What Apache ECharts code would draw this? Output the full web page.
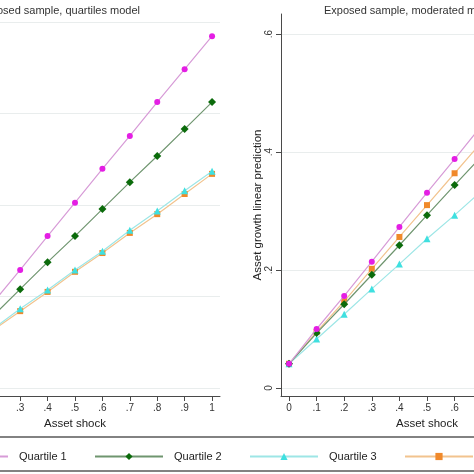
<!DOCTYPE html>
<html>
<head>
<meta charset="utf-8">
<script src="https://cdn.jsdelivr.net/npm/echarts@6/dist/echarts.min.js"></script>
<style>
  html, body { margin: 0; padding: 0; background: #fff; }
  #chart { width: 474px; height: 474px; }
</style>
</head>
<body>
<div id="chart"></div>
<script>
// asset shock values (x)
var shock = [0, 0.1, 0.2, 0.3, 0.4, 0.5, 0.6, 0.7, 0.8, 0.9, 1]
var xTicks = [0, 0.1, 0.2, 0.3, 0.4, 0.5, 0.6, 0.7, 0.8, 0.9, 1]
var yTicksLeft = [0, 0.2, 0.4, 0.6, 0.8]
var yTicksRight = [0, 0.2, 0.4, 0.6]
var names = ['Quartile 1', 'Quartile 2', 'Quartile 3', 'Quartile 4']

// quartiles model (left panel)
var leftQ1 = [0.040, 0.113, 0.186, 0.258, 0.332, 0.405, 0.479, 0.551, 0.625, 0.697, 0.769]
var leftQ2 = [0.040, 0.099, 0.157, 0.216, 0.275, 0.332, 0.391, 0.450, 0.507, 0.566, 0.625]
var leftQ3 = [0.040, 0.085, 0.129, 0.173, 0.214, 0.258, 0.299, 0.345, 0.387, 0.431, 0.474]
var leftQ4 = [0.040, 0.083, 0.126, 0.168, 0.210, 0.254, 0.295, 0.339, 0.380, 0.424, 0.468]

// moderated model (right panel)
var rightQ1 = [0.041, 0.100, 0.156, 0.214, 0.273, 0.331, 0.388, 0.446, 0.504, 0.562, 0.620]
var rightQ2 = [0.041, 0.093, 0.142, 0.192, 0.242, 0.293, 0.344, 0.394, 0.444, 0.494, 0.544]
var rightQ3 = [0.041, 0.083, 0.125, 0.168, 0.210, 0.253, 0.293, 0.335, 0.377, 0.419, 0.461]
var rightQ4 = [0.041, 0.095, 0.147, 0.202, 0.256, 0.310, 0.364, 0.418, 0.472, 0.526, 0.580]

var markerColors = ['#e41ee4', '#0b6b0b', '#3fe0e0', '#f0892a']
var lineColors = ['#d79bd7', '#6f956f', '#9de6e6', '#f2c38e']
var symbols = ['circle', 'diamond', 'triangle', 'rect']
var sizes = [6, 8, 7, 6]

var font = 'Liberation Sans, Arial, sans-serif'
var axisColor = '#4a4a4a'

function pairs(ys) {
  return shock.map(function (x, i) { return [x, ys[i]] })
}

function fmtShock(v) {
  if (v === 0) return '0'
  if (v === 1) return '1'
  return v.toFixed(1).replace(/^0/, '')
}

function fmtY(v) {
  if (v === 0) return '0'
  return v.toFixed(1).replace(/^0/, '')
}

function makeX(gridIndex) {
  return {
    type: 'value',
    gridIndex: gridIndex,
    min: -0.029,
    max: 1.029,
    name: 'Asset shock',
    nameLocation: 'middle',
    nameGap: 18,
    nameTextStyle: { fontFamily: font, fontSize: 11.5, color: '#222' },
    axisLine: { show: true, onZero: false, lineStyle: { color: axisColor, width: 1 } },
    axisTick: { show: true, length: 5, customValues: xTicks, lineStyle: { color: axisColor } },
    axisLabel: { customValues: xTicks, margin: 7, fontFamily: font, fontSize: 10, color: '#333', formatter: fmtShock },
    splitLine: { show: false }
  }
}

function makeSeries(gridIndex, data, k) {
  return {
    name: names[k],
    type: 'line',
    xAxisIndex: gridIndex,
    yAxisIndex: gridIndex,
    data: pairs(data),
    symbol: symbols[k],
    symbolSize: sizes[k],
    showAllSymbol: true,
    animation: false,
    itemStyle: { color: markerColors[k] },
    lineStyle: { color: lineColors[k], width: 1.2 },
    z: 10 - k
  }
}

function makeLegend(k, left) {
  return {
    data: [names[k]],
    left: left,
    top: 446,
    itemWidth: 68,
    itemHeight: 9,
    textStyle: { fontFamily: font, fontSize: 11, color: '#222', padding: [0, 0, 0, 6] }
  }
}

var chart = echarts.init(document.getElementById('chart'))
chart.setOption({
  backgroundColor: '#fff',
  animation: false,
  title: [
    { text: 'Exposed sample, quartiles model', right: 329, top: 0,
      textStyle: { fontFamily: font, fontSize: 11, fontWeight: 'normal', color: '#333' } },
    { text: 'Exposed sample, moderated model', left: 319, top: 0,
      textStyle: { fontFamily: font, fontSize: 11, fontWeight: 'normal', color: '#333' } }
  ],
  legend: [
    makeLegend(0, -66),
    makeLegend(1, 89),
    makeLegend(2, 244),
    makeLegend(3, 399)
  ],
  grid: [
    { left: -70, right: 254, top: 14, bottom: 78, outerBoundsMode: 'none', containLabel: false },
    { left: 281, right: -99, top: 14, bottom: 78, outerBoundsMode: 'none', containLabel: false }
  ],
  xAxis: [makeX(0), makeX(1)],
  yAxis: [
    {
      type: 'value',
      gridIndex: 0,
      min: -0.0175,
      max: 0.8175,
      axisLine: { show: false },
      axisTick: { show: false, customValues: yTicksLeft },
      axisLabel: { show: false, customValues: yTicksLeft },
      splitLine: { show: true, lineStyle: { color: '#e9eded', width: 1 } }
    },
    {
      type: 'value',
      gridIndex: 1,
      min: -0.0136,
      max: 0.634,
      name: 'Asset growth linear prediction',
      nameLocation: 'middle',
      nameGap: 17,
      nameMoveOverlap: false,
      nameTextStyle: { fontFamily: font, fontSize: 11.5, color: '#222' },
      axisLine: { show: true, onZero: false, lineStyle: { color: axisColor, width: 1 } },
      axisTick: { show: true, length: 5, customValues: yTicksRight, lineStyle: { color: axisColor } },
      axisLabel: { customValues: yTicksRight, rotate: 90, margin: 7, fontFamily: font, fontSize: 10, color: '#333', formatter: fmtY },
      splitLine: { show: true, lineStyle: { color: '#e9eded', width: 1 } }
    }
  ],
  graphic: [
    {
      type: 'rect',
      shape: { x: -10, y: 437, width: 494, height: 34 },
      style: { fill: 'none', stroke: '#5a5a5a', lineWidth: 1.5 },
      silent: true
    }
  ],
  series: [
    makeSeries(0, leftQ1, 0),
    makeSeries(0, leftQ2, 1),
    makeSeries(0, leftQ3, 2),
    makeSeries(0, leftQ4, 3),
    makeSeries(1, rightQ1, 0),
    makeSeries(1, rightQ2, 1),
    makeSeries(1, rightQ3, 2),
    makeSeries(1, rightQ4, 3)
  ]
})
</script>
</body>
</html>
